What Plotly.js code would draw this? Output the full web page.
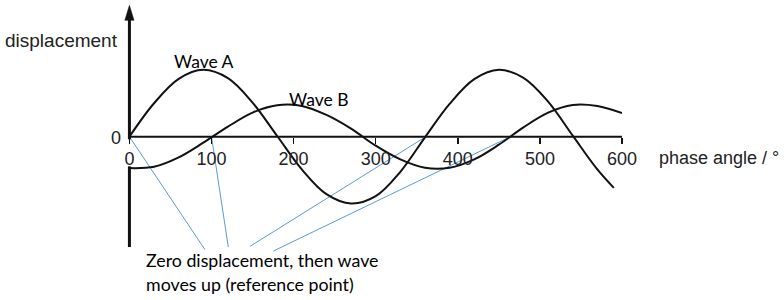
<!DOCTYPE html>
<html>
<head>
<meta charset="utf-8">
<script src="https://cdn.plot.ly/plotly-3.0.1.min.js"></script>
<style>html,body{margin:0;padding:0;background:#fff;}#chart{width:784px;height:300px;}</style>
</head>
<body>
<div id="chart"></div>
<script>
// ---- data ----
var phaseA = [0,30,60,90,120,150,180,210,240,270,300,330,360,390,420,450,480,510,540,570,590];
var dispA  = [0,1.0,1.73,2.0,1.75,1.02,0.02,-0.98,-1.72,-2.0,-1.78,-1.05,-0.02,0.98,1.72,2.0,1.76,1.05,0.03,-0.98,-1.53];
var phaseB = [0,30,60,90,120,150,180,210,240,270,300,330,360,390,420,450,480,510,540,570,600];
var dispB  = [-0.94,-0.9,-0.62,-0.18,0.3,0.72,0.94,0.92,0.65,0.24,-0.27,-0.68,-0.93,-0.93,-0.68,-0.24,0.28,0.72,0.95,0.92,0.71];
var tickVals = [0,100,200,300,400,500,600];
var tickText = ['0','100','200','300','400','500','600'];
var refPointsX = [0,100,361,464];     // zero displacement, moving up
var labelA = 'Wave A', labelB = 'Wave B';
var xTitle = 'phase angle / °', yTitle = 'displacement';
var note1 = 'Zero displacement, then wave', note2 = 'moves up (reference point)';

// ---- geometry ----
var L = 113.1, R = 162.3, T = 2.66, B = 43.34;
var W = 784 - L - R, H = 300 - T - B;
var yMin = -3.6, yMax = 4.0, xMin = -20, xMax = 600;
function px(x){ return (x - L) / W; }
function py(y){ return (300 - B - y) / H; }
function dx(p){ return xMin + (p - L) / W * (xMax - xMin); }
function dy(p){ return yMin + (300 - B - p) / H * (yMax - yMin); }

var black = '#111';
var traces = [
  {x: phaseA, y: dispA, mode: 'lines', line: {color: black, width: 2, shape: 'spline'}, hoverinfo: 'skip'},
  {x: phaseB, y: dispB, mode: 'lines', line: {color: black, width: 2, shape: 'spline'}, hoverinfo: 'skip'}
];

var blue = '#5b9bd5';
var noteEnds = [[205, 249.3],[228.3, 246.7],[250, 246],[273.3, 250.7]];
var shapes = [];
// x axis line
shapes.push({type:'line', xref:'x', yref:'y', x0:0, x1:600, y0:0, y1:0, line:{color:black, width:2}, layer:'below'});
// y axis (two segments, gap behind tick label 0)
shapes.push({type:'line', xref:'x', yref:'y', x0:0, x1:0, y0:dy(18), y1:dy(139), line:{color:black, width:3}});
shapes.push({type:'line', xref:'x', yref:'y', x0:0, x1:0, y0:dy(166), y1:dy(246.7), line:{color:black, width:3}});
// arrow head
var hw = 4.6 * (xMax - xMin) / W;
shapes.push({type:'path', xref:'x', yref:'y',
  path: 'M ' + (-hw) + ',' + dy(20) + ' L 0,' + dy(5) + ' L ' + hw + ',' + dy(20) + ' Z',
  fillcolor: black, line:{color:black, width:0.5}});
// pointer lines
refPointsX.forEach(function(xv, i){
  shapes.push({type:'line', xref:'x', yref:'y', x0:xv, y0:0, x1:dx(noteEnds[i][0]), y1:dy(noteEnds[i][1]),
    line:{color:blue, width:1}, layer:'below'});
});

var arial = 'Liberation Sans, Arial, sans-serif';
var lato = 'Lato, Carlito, Calibri, sans-serif';
function ann(text, x, y, xa, font){
  return {text:text, xref:'paper', yref:'paper', x:px(x), y:py(y), xanchor:xa, yanchor:'middle',
    showarrow:false, font:font};
}
var annotations = [
  ann(yTitle, 2.7, 40, 'left', {family:arial, size:19, color:'#222'}),
  ann('0', 123, 137.5, 'right', {family:arial, size:18, color:'#222'}),
  ann(xTitle, 657, 158, 'left', {family:arial, size:18, color:'#222'}),
  ann(labelA, 172, 61, 'left', {family:lato, size:17.5, color:'#000'}),
  ann(labelB, 287, 99.5, 'left', {family:lato, size:17.5, color:'#000'}),
  ann(note1, 144, 259.5, 'left', {family:lato, size:17.8, color:'#000'}),
  ann(note2, 144, 283.5, 'left', {family:lato, size:17.8, color:'#000'})
];

var layout = {
  width: 784, height: 300,
  margin: {l: L, r: R, t: T, b: B, pad: 0},
  paper_bgcolor: '#fff', plot_bgcolor: '#fff',
  showlegend: false,
  xaxis: {range: [xMin, xMax], anchor: 'free', position: (0 - yMin) / (yMax - yMin),
    showline: false, zeroline: false, showgrid: false,
    tickmode: 'array', tickvals: tickVals, ticktext: tickText,
    ticks: 'outside', ticklen: 6, tickwidth: 1.5, tickcolor: black,
    tickfont: {family: arial, size: 18, color: '#222'}, fixedrange: true},
  yaxis: {range: [yMin, yMax], showline: false, zeroline: false, showgrid: false,
    showticklabels: false, ticks: '', fixedrange: true},
  shapes: shapes,
  annotations: annotations
};

Plotly.newPlot('chart', traces, layout, {staticPlot: true, displayModeBar: false});
</script>
</body>
</html>
